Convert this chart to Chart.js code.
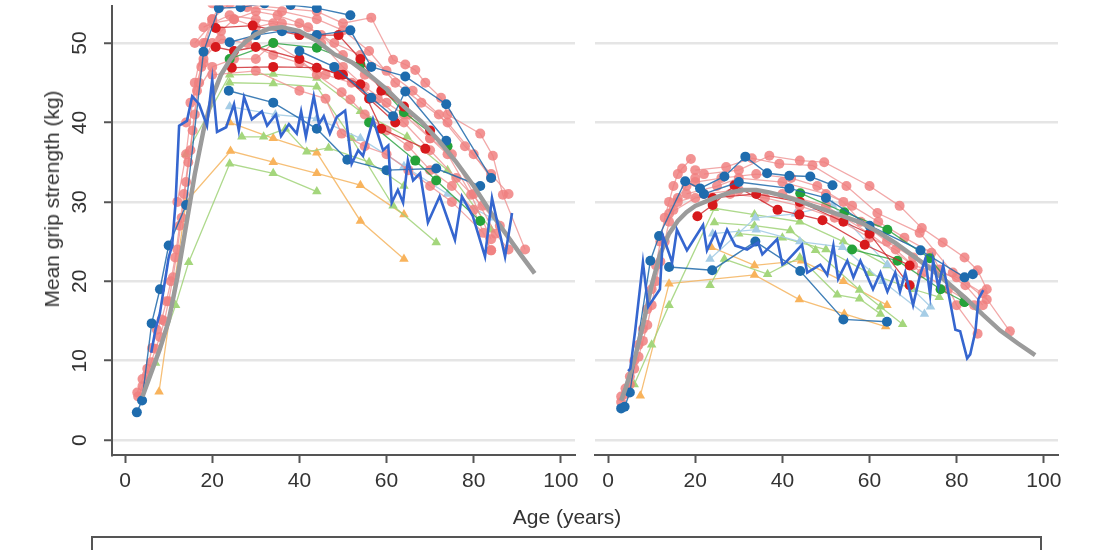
<!DOCTYPE html>
<html>
<head>
<meta charset="utf-8">
<script src="https://cdn.jsdelivr.net/npm/chart.js@4.4.1/dist/chart.umd.min.js"></script>
<style>
  body { margin: 0; background: #fff; width: 1100px; height: 550px; overflow: hidden; position: relative;
         font-family: "Liberation Sans", Arial, sans-serif; color: #333; }
  #leftBox { position: absolute; left: 0; top: 0; width: 585px; height: 550px; }
  #rightBox { position: absolute; left: 585px; top: 0; width: 515px; height: 550px; }
  #ytitle { position: absolute; left: 52px; top: 199px; transform: translate(-50%, -50%) rotate(-90deg);
            font-size: 21px; white-space: nowrap; }
  #xtitle { position: absolute; left: 567px; top: 517px; transform: translate(-50%, -50%);
            font-size: 21px; white-space: nowrap; }
  #legendBox { position: absolute; left: 91px; top: 536px; width: 947px; height: 40px; border: 2px solid #555; }
</style>
</head>
<body>
<div id="leftBox"><canvas id="male"></canvas></div>
<div id="rightBox"><canvas id="female"></canvas></div>
<div id="ytitle">Mean grip strength (kg)</div>
<div id="xtitle">Age (years)</div>
<div id="legendBox"></div>
<script>
// tick labels
const xTicks = [0, 20, 40, 60, 80, 100];
const yTicks = [0, 10, 20, 30, 40, 50];

// ---- males: [age, kg] ----
const mJag = [[6,11],[7,14],[8,16],[9,19.5],[10,23],[10.8,24.5],[11.6,30],[12.4,39.6],[14.2,40.2],[15.4,43.3],[17,42.3],[18.8,39.6],[20,45.4],[21.1,38.8],[23.2,39.4],[25,42.3],[26.1,39],[27.3,43.2],[29.1,40.4],[31.4,41.4],[32.6,39.6],[34.6,41],[35.8,38.3],[37.6,39.8],[39.4,38.6],[40.4,41.4],[41.5,38.2],[43.3,43.3],[44.5,39.8],[45.6,40.8],[47,38.6],[48.6,40.7],[50.5,41.5],[52,34.8],[53.5,36.5],[54.6,35.8],[56.9,40.4],[59.2,36.5],[60.4,37.1],[61.2,29.9],[62.6,31.5],[63.8,29.9],[64.9,35.2],[66.1,32.7],[67.7,33.6],[69.5,27.4],[72.2,30.7],[75.7,25.2],[77.3,30.7],[79.8,28.2],[82.6,23.1],[84.2,30.5],[87.2,23.1],[88.8,28.6]];
const mFit = [[4,5.5],[6,8.5],[8,11.5],[10,15],[12,20.5],[14,27],[16,33.5],[18,39],[20,43.2],[22,46],[24,47.8],[26,49.3],[28,50.3],[30,51.1],[33,51.8],[36,52],[40,51.5],[44,50.3],[48,48.6],[52,47.6],[56,46],[60,44.2],[64,42],[68,40.1],[72,37.7],[76,35],[80,32],[84,28.6],[88,25.5],[91,23.2],[94,21]];
const mPinkA = [[2.8,6],[4,7.7],[5.1,9],[6.2,11.6],[7.3,13.9],[8.4,15.2],[9.5,17.5],[10.5,20],[11.5,23],[12.5,27],[13.5,31],[14.5,35],[15.5,39],[16.5,44],[17.5,47],[18.5,50],[20,53],[22,55]];
const mPinkB = [[3,5.5],[4,6.8],[5,8.2],[6,9.8],[7,11.5],[8,13],[9,15],[10,17.5],[11,20.5],[12,24],[13,28],[14,32.5],[15,36.5],[16,41],[17,45],[18,47.5],[20,50],[22,51.5],[25,53],[30,54],[35,53.5],[40,52.5],[45,51],[50,48.5],[55,46],[60,44],[65,41],[70,38],[75,36],[80,31],[85,26],[88,24]];
const mPinkC = [[12,30],[14,36],[16,45],[18,50],[20,53],[24,55],[44,54],[50,52.5],[56.5,53.2],[61.5,47.9],[64.3,47.3],[66.6,46.6],[68.9,45],[72.5,43.1],[74,41],[81.5,38.6],[84.4,35.8],[86.7,30.9],[91.8,24]];
const mPinkD = [[16,50],[20,52.5],[25,53],[30,52],[34,52.5],[40,51],[45,50],[50,47],[55,44.5],[60,42.5],[64,41],[70,38],[74,36],[79.4,30.9],[84,25.3]];
const mPinkE = [[15,42.5],[20,47],[25,48],[30,48],[34,50],[40,48],[44,46],[49.7,43.8],[51.7,42.9],[55,41],[60,39],[65,37],[70,34],[75,32],[80,29],[84,23.9]];
const mPinkF = [[20,55],[28,54.5],[36,54],[44,53],[50,51.6],[56,49],[62,45],[68,42.5],[74,40],[80,36],[84,33]];
const mPinkG = [[20,46],[30,46.5],[40,44],[46,43],[49.7,38.6],[55,37],[60,36],[65,34],[70,32],[75,30],[82.2,26.1],[84,23.9]];
const mPinkH = [[14,40],[18,48],[22,50.5],[28,50],[34,48.5],[40,47.5],[46,46],[52,45],[58,43],[64,40],[70,36.5],[76,33],[82,29.5],[86,27]];
const mPinkI = [[18,52],[24,53.5],[30,53],[36,52.5],[42,52],[48,50],[54,48.5],[60,46.5],[66,44],[72,41],[78,37],[84,33.5],[88,31]];
const mBlueA = [[2.7,3.5],[3.9,5],[6.1,14.7],[8,19],[10,24.5],[14,29.6],[18,48.9],[21.5,54.4],[26.5,54.5],[32,55],[38,54.8],[44,54.4],[51.7,53.5]];
const mBlueB = [[24,50.1],[30,51],[36,51.5],[44,51],[51.7,51.6],[56.5,47],[64.3,45.8],[73.7,42.3],[84,33]];
const mBlueC = [[23.8,44],[34,42.5],[44,39.2],[51,35.3],[60,34],[71.4,34.2],[81.5,32]];
const mBlueD = [[40,49],[48,47],[56.5,43.1],[61.5,40.8],[64.3,43.9],[73.7,37.7]];
const mRedA = [[20.8,51.9],[29.3,52.2],[40,51],[49,51],[54,48],[58.8,44],[64,42],[70,39]];
const mRedB = [[20.8,49.5],[25,49],[30,49.5],[40,48],[49,46],[54,44.8],[58.8,39.2],[68.9,36.7]];
const mRedC = [[24.5,46.9],[34,47],[44,46.9],[50,46],[56,43],[62,40]];
const mGreenA = [[24,48],[34,50],[44,49.4],[54,47.3],[64,41.3],[74,37]];
const mGreenB = [[56,40],[66.6,35.2],[71.4,32.7],[81.5,27.6]];
const mLgA = [[7,9.7],[11.6,17],[14.6,22.4],[24,34.8],[34,33.6],[44,31.3]];
const mLgB = [[14,36],[24,46],[34,46.1],[44,45.6],[54,41.4],[64.7,38.2],[74,34],[84,26.5]];
const mLgC = [[24,45],[34,44.9],[44,44.5],[52,38],[61.5,29.5],[71.4,24.9]];
const mLgD = [[26.8,38.2],[31.8,38.2],[36.8,39.2],[41.7,36.3],[46.7,36.8],[56,35],[64,32]];
const mOrA = [[7.8,6.1],[14,30],[24.2,36.4],[34,35],[44,33.6],[54,32.1],[64,28.4]];
const mOrB = [[24,40],[34,38],[44,36.2],[54,27.6],[64,22.8]];
const mLbA = [[24,42],[34.5,41],[44,40.5],[54,38],[64,34.5],[74,31],[84,28]];

// ---- females: [age, kg] ----
const fJag = [[4.6,8.7],[5.1,9],[6.2,13.7],[8,22.4],[9.2,16.8],[11.9,19],[12.6,25.7],[14.7,22.4],[15.8,26.5],[18.1,23.9],[21.8,27.1],[22.7,23.9],[24.6,26.1],[25.7,24.3],[27.3,26.5],[29.2,24.5],[31.9,24],[34.4,24.9],[35.4,23.4],[38.8,25.3],[40,22.1],[40.6,22.3],[44.5,24.6],[45.7,21.1],[48.7,22.1],[50.3,20.8],[51.7,24.5],[52.8,20.3],[54.9,22.6],[56.3,20.5],[57.9,22.6],[60.8,19],[62.5,21.1],[64.1,18.7],[65.9,21.1],[67,18.7],[68.2,21.1],[70,17],[71.6,20.8],[72.8,22.8],[73.9,18.3],[74.6,22.6],[75.8,19.3],[76.9,22],[78.5,17.4],[79.7,13.9],[80.8,13.7],[82.4,10.3],[83.1,10.8],[84.3,13.7],[85,17.8],[86.1,18.9]];
const fFit = [[3,5],[4,6.5],[6,10],[8,14.5],[10,19.5],[12,23.5],[14,26],[16,27.6],[18,28.7],[20,29.5],[24,30.4],[28,31.2],[31,31.5],[34,31.5],[37,31.2],[40,30.8],[44,30.1],[47,29.5],[52,28.6],[58,27.4],[62,26.2],[66,24.8],[70,23.2],[74,21.6],[78,19.8],[82,17.9],[86,15.8],[90,13.8],[94,12.2],[98,10.7]];
const fPinkA = [[3,5.5],[4,6.5],[5,8],[6,10],[7,12],[8,14],[9,16.5],[10,19],[11,22],[12,25],[13,28],[14,30],[15,32],[16,33.5],[17,34.2],[19,35.4]];
const fPinkB = [[3,4.8],[4,5.8],[5,7],[6,9],[7,10.5],[8,12.5],[9,14.5],[10,17],[11,20],[12,22.5],[13,25],[14,27.5],[15,29],[16,30.5],[18,32],[20,33]];
const fPinkC = [[20,34],[27.1,34.4],[33,35.5],[39.3,34.8],[46.9,34.6],[54.7,32],[61.8,28.6],[71.5,26.1],[79.1,21.1],[86.9,17.7]];
const fPinkD = [[22,33.5],[30,34],[37,35.8],[44,35.2],[49.6,35],[60,32],[66.9,29.5],[72,26.7],[76.8,24.9],[81.8,23],[84.8,21.4],[86.9,19]];
const fPinkE = [[18,31],[25,32],[30,33],[40,32.5],[50,31],[56,29.5],[62,27.5],[68,25.5],[74.2,23.6],[80,17],[84.8,13.4]];
const fPinkF = [[16,30],[22,31],[30,31.5],[40,31],[50,29.5],[60,26],[70,22],[80,20.5],[86,18.5],[92.2,13.7]];
const fPinkG = [[14,28.5],[20,30.5],[28,31],[36,30.5],[44,29.5],[52,28],[60,25.5],[66,24],[72,21],[78,19],[84,17]];
const fPinkH = [[20,32.5],[26,33],[34,33.5],[42,33],[48,32],[54,30],[58,27.5],[64,25],[70,23],[76,21.5],[82,19.5],[86,17]];
const fBlueA = [[3,4],[3.8,4.2],[5,6],[9.7,22.6],[11.7,25.7],[17.7,32.6],[21.1,31.7],[26.7,33.2],[31.5,35.7],[36.5,33.6],[41.6,33.3],[46.4,33.2],[51.5,32.1]];
const fBlueB = [[14,21.8],[23.9,21.4],[33.8,25],[44.1,21.3],[54,15.2],[64,14.9]];
const fBlueC = [[22,31],[30,32.5],[41.6,31.7],[50,30.5],[60,27],[71.7,23.9],[81.8,20.5],[83.7,20.9]];
const fRedA = [[20.5,28.2],[24,29.6],[29,32.1],[38.9,29],[43.9,28.4],[49.2,27.7],[58.9,24.6],[69.2,22]];
const fRedB = [[24,30.5],[34,31],[44,30],[54,27.5],[60,26],[69.2,19.5]];
const fGreenA = [[44.1,31.1],[54.2,28.7],[64.1,26.5],[73.8,22.9],[81.8,17.4]];
const fGreenB = [[56,24],[66.4,22.6],[76.3,19],[81.8,17.4]];
const fLgA = [[6,7],[10,12],[14,17],[24.4,29.2],[33.6,28.4],[44,27.5],[54,25],[64,22]];
const fLgB = [[24.4,27.4],[33.6,27],[41.8,26.4],[47.6,23.9],[57.7,18.9],[62.5,16.8],[67.6,14.6]];
const fLgC = [[23.4,19.5],[26.7,22.8],[36.6,20.9],[44,23],[52.6,18.3],[57.7,17.8],[62.5,15.9]];
const fLgD = [[30,26],[40,25.5],[50,24],[60,21],[70,19],[76,18]];
const fOrA = [[7.4,5.6],[14,19.7],[33.6,20.8],[43.9,17.7],[54.2,15.9],[63.7,14.3]];
const fOrB = [[23.7,24.3],[33.6,22],[44.4,22.6],[54,20],[64,17]];
const fLbA = [[23.4,22.8],[33.8,28],[43,28.5],[51.5,29.6],[64.1,22.1],[74,16.8]];
const fLbB = [[24,26],[34,26.5],[44,25],[53.8,24.3],[63,20],[72.6,15.9]];

// styles
const styles = {
  jag:    { line: '#3566cf', lw: 2.6, r: 0 },
  fit:    { line: '#9b9b9b', lw: 4.5, r: 0 },
  pink:   { line: 'rgba(238,140,140,0.75)', fill: 'rgba(240,128,128,0.85)', lw: 1.3, r: 5, shape: 'circle' },
  blue:   { line: 'rgba(30,105,170,0.85)', fill: '#1f6cae', lw: 1.4, r: 5, shape: 'circle' },
  red:    { line: 'rgba(205,35,40,0.8)', fill: '#d7191c', lw: 1.3, r: 5, shape: 'circle' },
  green:  { line: 'rgba(40,160,60,0.8)', fill: '#25a23a', lw: 1.3, r: 5, shape: 'circle' },
  lgreen: { line: 'rgba(160,210,120,0.85)', fill: '#a4d67c', lw: 1.3, r: 5.5, shape: 'triangle' },
  orange: { line: 'rgba(245,180,95,0.85)', fill: '#f8b35c', lw: 1.3, r: 5.5, shape: 'triangle' },
  lblue:  { line: 'rgba(165,205,230,0.9)', fill: '#a6cde6', lw: 1.3, r: 5.5, shape: 'triangle' }
};

// first entry is drawn on top
const maleSeries = [
  [mJag, 'jag'], [mFit, 'fit'],
  [mBlueA, 'blue'], [mBlueB, 'blue'], [mBlueC, 'blue'], [mBlueD, 'blue'],
  [mRedA, 'red'], [mRedB, 'red'], [mRedC, 'red'],
  [mGreenA, 'green'], [mGreenB, 'green'],
  [mPinkA, 'pink'], [mPinkB, 'pink'], [mPinkC, 'pink'], [mPinkD, 'pink'], [mPinkE, 'pink'],
  [mPinkF, 'pink'], [mPinkG, 'pink'], [mPinkH, 'pink'], [mPinkI, 'pink'],
  [mLbA, 'lblue'], [mLgA, 'lgreen'], [mLgB, 'lgreen'], [mLgC, 'lgreen'], [mLgD, 'lgreen'],
  [mOrA, 'orange'], [mOrB, 'orange']
];
const femaleSeries = [
  [fJag, 'jag'], [fFit, 'fit'],
  [fBlueA, 'blue'], [fBlueB, 'blue'], [fBlueC, 'blue'],
  [fRedA, 'red'], [fRedB, 'red'],
  [fGreenA, 'green'], [fGreenB, 'green'],
  [fPinkA, 'pink'], [fPinkB, 'pink'], [fPinkC, 'pink'], [fPinkD, 'pink'], [fPinkE, 'pink'],
  [fPinkF, 'pink'], [fPinkG, 'pink'], [fPinkH, 'pink'],
  [fLbA, 'lblue'], [fLbB, 'lblue'], [fLgA, 'lgreen'], [fLgB, 'lgreen'], [fLgC, 'lgreen'], [fLgD, 'lgreen'],
  [fOrA, 'orange'], [fOrB, 'orange']
];

function makeSet(pts, key) {
  const st = styles[key];
  return {
    data: pts.map(p => ({ x: p[0], y: p[1] })),
    showLine: true,
    borderColor: st.line,
    borderWidth: st.lw,
    pointRadius: st.r,
    pointStyle: st.shape || 'circle',
    pointBackgroundColor: st.fill || st.line,
    pointBorderColor: st.fill || st.line,
    pointBorderWidth: 0,
    tension: 0
  };
}

const font = '"Liberation Sans", Arial, sans-serif';

// rotated y tick labels, Stata style
const yLabelPlugin = {
  id: 'yLabels',
  afterDraw(chart) {
    const s = chart.scales.y, ctx = chart.ctx;
    ctx.save();
    ctx.font = '21px ' + font;
    ctx.fillStyle = '#333';
    ctx.textAlign = 'center';
    ctx.textBaseline = 'middle';
    s.ticks.forEach(t => {
      ctx.save();
      ctx.translate(80, s.getPixelForValue(t.value));
      ctx.rotate(-Math.PI / 2);
      ctx.fillText(String(t.value), 0, 0);
      ctx.restore();
    });
    ctx.restore();
  }
};

function xAxis() {
  return {
    type: 'linear', min: -3, max: 103.25,
    afterBuildTicks: s => { s.ticks = xTicks.map(v => ({ value: v })); },
    afterFit: s => { s.height = 95; },
    grid: { drawOnChartArea: false, drawTicks: true, tickLength: 8, tickWidth: 2, tickColor: '#555' },
    border: { color: '#555', width: 2 },
    ticks: { color: '#333', font: { size: 21, family: font }, padding: 6, maxRotation: 0 }
  };
}

function buildChart(id, series, isLeft) {
  return new Chart(document.getElementById(id), {
    type: 'scatter',
    data: { datasets: series.map(s => makeSet(s[0], s[1])) },
    options: {
      responsive: true, maintainAspectRatio: false, animation: false,
      layout: { padding: { left: 0, right: isLeft ? 10 : 42, top: 0, bottom: 0 } },
      plugins: { legend: { display: false }, tooltip: { enabled: false } },
      scales: {
        x: xAxis(),
        y: {
          type: 'linear', min: -1.87, max: 54.73,
          afterBuildTicks: s => { s.ticks = yTicks.map(v => ({ value: v })); },
          afterFit: s => { s.width = isLeft ? 112 : 10; },
          grid: { color: '#e5e5e5', lineWidth: 2.5, drawTicks: isLeft, tickLength: 8, tickWidth: 2, tickColor: '#555' },
          border: { display: isLeft, color: '#555', width: 2 },
          ticks: { display: false }
        }
      }
    },
    plugins: isLeft ? [yLabelPlugin] : []
  });
}

buildChart('male', maleSeries, true);
buildChart('female', femaleSeries, false);
</script>
</body>
</html>
